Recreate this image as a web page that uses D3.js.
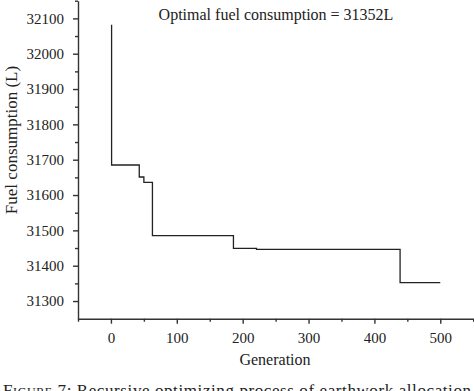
<!DOCTYPE html>
<html>
<head>
<meta charset="utf-8">
<script src="https://cdn.jsdelivr.net/npm/d3@7"></script>
<style>
  body { margin: 0; background: #fff; }
  svg { display: block; font-family: "Liberation Serif", "Times New Roman", serif; }
</style>
</head>
<body>
<svg id="chart" width="474" height="391"></svg>
<script>
// step points of the best-so-far curve
const generations = [0, 1, 43, 50, 63, 186, 221, 439, 500];
const fuelValues = [32080, 31685, 31651, 31636, 31485, 31449, 31446, 31352, 31352];

const xTicks = [0, 100, 200, 300, 400, 500];
const yTicks = [31300, 31400, 31500, 31600, 31700, 31800, 31900, 32000, 32100];

const titleText = "Optimal fuel consumption = 31352L";
const xLabel = "Generation";
const yLabel = "Fuel consumption (L)";

const svg = d3.select("#chart");

const x = d3.scaleLinear().domain([-50, 550]).range([78, 473.2]);
const y = d3.scaleLinear().domain([31250, 32150]).range([318.7, 0.7]);

const axisColor = "#333";

// x axis
const xAxis = svg.append("g").attr("transform", `translate(0,${y(31250)})`);
xAxis.call(d3.axisBottom(x).tickValues(xTicks).tickSize(5).tickSizeOuter(0).tickPadding(9));
xAxis.append("g").call(d3.axisBottom(x).tickValues(d3.range(-50, 551, 100)).tickSize(3).tickFormat(""))
  .select(".domain").remove();

// y axis
const yAxis = svg.append("g").attr("transform", `translate(${x(-50)},0)`);
yAxis.call(d3.axisLeft(y).tickValues(yTicks).tickSize(5).tickSizeOuter(0).tickPadding(9).tickFormat(d3.format("d")));
yAxis.append("g").call(d3.axisLeft(y).tickValues(d3.range(31350, 32151, 100)).tickSize(3).tickFormat(""))
  .select(".domain").remove();

svg.selectAll(".domain, .tick line")
  .attr("stroke", axisColor)
  .attr("stroke-width", 1.4);

svg.selectAll(".tick text")
  .attr("fill", "#222")
  .attr("font-family", null)
  .style("font-family", "'Liberation Serif', serif")
  .style("font-size", "15px");
svg.selectAll("g").attr("font-family", null);

// curve
const line = d3.line()
  .x((d, i) => x(generations[i]))
  .y(d => y(d))
  .curve(d3.curveStepAfter);

svg.append("path")
  .datum(fuelValues)
  .attr("d", line)
  .attr("fill", "none")
  .attr("stroke", "#222")
  .attr("stroke-width", 1.3);

// texts
svg.append("text")
  .attr("x", 276)
  .attr("y", 20)
  .attr("text-anchor", "middle")
  .attr("fill", "#222")
  .style("font-size", "16px")
  .text(titleText);

svg.append("text")
  .attr("x", 275)
  .attr("y", 365)
  .attr("text-anchor", "middle")
  .attr("fill", "#222")
  .style("font-size", "16px")
  .text(xLabel);

svg.append("text")
  .attr("transform", "translate(17,140) rotate(-90)")
  .attr("text-anchor", "middle")
  .attr("fill", "#222")
  .style("font-size", "17px")
  .text(yLabel);

// figure caption, cut off at the bottom edge as in the source figure
const caption = svg.append("text")
  .attr("x", 3)
  .attr("y", 396)
  .attr("fill", "#222")
  .attr("textLength", 468)
  .style("font-size", "17px");
caption.append("tspan").style("font-variant", "small-caps").text("Figure 7:");
caption.append("tspan").text(" Recursive optimizing process of earthwork allocation");
</script>
</body>
</html>
